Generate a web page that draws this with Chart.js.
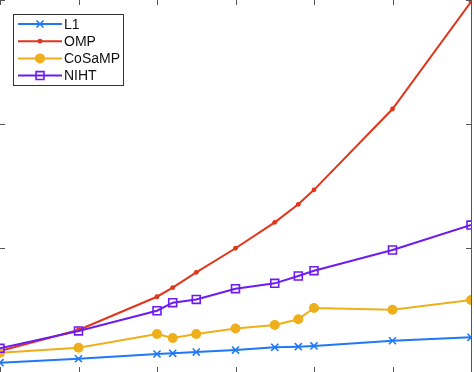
<!DOCTYPE html>
<html>
<head>
<meta charset="utf-8">
<script src="https://cdn.jsdelivr.net/npm/chart.js@4.4.1/dist/chart.umd.min.js"></script>
<style>
  html, body { margin: 0; padding: 0; background: #fff; }
  #wrap { width: 474px; height: 372px; position: relative; }
</style>
</head>
<body>
<div id="wrap"><canvas id="chart"></canvas></div>
<script>
// x positions of the measured points (axis units, one tick = 1)
const xValues = [0, 1, 2, 2.2, 2.5, 3, 3.5, 3.8, 4, 5, 6];

const l1Values     = [0.075, 0.107, 0.145, 0.151, 0.161, 0.177, 0.199, 0.204, 0.210, 0.252, 0.280];
const ompValues    = [0.169, 0.339, 0.607, 0.680, 0.804, 0.998, 1.207, 1.352, 1.469, 2.121, 2.986];
const cosampValues = [0.156, 0.196, 0.306, 0.274, 0.306, 0.351, 0.379, 0.425, 0.516, 0.502, 0.581];
const nihtValues   = [0.191, 0.331, 0.494, 0.559, 0.585, 0.672, 0.715, 0.774, 0.817, 0.984, 1.185];

const seriesNames = ['L1', 'OMP', 'CoSaMP', 'NIHT'];

const xTicks = [0, 1, 2, 3, 4, 5, 6];
const yTicks = [0, 1, 2, 3];

function toPoints(vals) {
    return vals.map((v, i) => ({ x: xValues[i], y: v }));
}

function makeSet(t_label, t_vals, t_color, t_style, t_radius, t_fill, t_order) {
    return {
        label: t_label,
        data: toPoints(t_vals),
        borderColor: t_color,
        backgroundColor: t_fill ? t_color : 'rgba(0,0,0,0)',
        borderWidth: 2,
        pointStyle: t_style,
        pointRadius: t_radius,
        pointHoverRadius: t_radius,
        pointBorderColor: t_color,
        pointBackgroundColor: t_fill ? t_color : 'rgba(0,0,0,0)',
        pointBorderWidth: t_style === 'circle' && t_fill ? 0 : 1.6,
        tension: 0,
        order: t_order
    };
}

const colors = ['#1f78f8', '#e0351b', '#eeaf1a', '#6c1cf0'];

// MATLAB style inward ticks, right box edge and the legend
const framePlugin = {
    id: 'frame',
    afterDraw(chart) {
        const ctx = chart.ctx;
        const a = chart.chartArea;
        const sx = chart.scales.x, sy = chart.scales.y;
        const len = 5;
        ctx.save();
        ctx.strokeStyle = '#555';
        ctx.lineWidth = 1;
        ctx.beginPath();
        ctx.moveTo(a.right + 0.5, a.top);
        ctx.lineTo(a.right + 0.5, a.bottom);
        xTicks.forEach(t => {
            const px = Math.round(sx.getPixelForValue(t)) + 0.5;
            ctx.moveTo(px, a.top); ctx.lineTo(px, a.top + len);
            ctx.moveTo(px, a.bottom); ctx.lineTo(px, a.bottom - len);
        });
        yTicks.forEach(t => {
            const py = Math.round(sy.getPixelForValue(t)) + 0.5;
            ctx.moveTo(a.left, py); ctx.lineTo(a.left + len, py);
            ctx.moveTo(a.right, py); ctx.lineTo(a.right - len, py);
        });
        ctx.stroke();

        // legend box
        const bx = 13.5, by = 14.5, bw = 110, bh = 71;
        ctx.fillStyle = '#fff';
        ctx.fillRect(bx, by, bw, bh);
        ctx.strokeStyle = '#333';
        ctx.strokeRect(bx, by, bw, bh);
        ctx.font = '14px "Liberation Sans", Arial, sans-serif';
        ctx.textBaseline = 'middle';
        chart.data.datasets.forEach((ds, i) => {
            const ly = 24 + i * 17.2;
            ctx.strokeStyle = ds.borderColor;
            ctx.lineWidth = 2;
            ctx.beginPath();
            ctx.moveTo(18, ly); ctx.lineTo(62, ly);
            ctx.stroke();
            ctx.fillStyle = ds.pointBackgroundColor;
            ctx.strokeStyle = ds.borderColor;
            ctx.lineWidth = ds.pointBorderWidth;
            Chart.helpers.drawPoint(ctx, {
                pointStyle: ds.pointStyle,
                radius: ds.pointRadius,
                borderWidth: ds.pointBorderWidth
            }, 40, ly);
            ctx.fillStyle = '#111';
            ctx.fillText(ds.label, 64, ly + 1);
        });
        ctx.restore();
    }
};

new Chart(document.getElementById('chart'), {
    type: 'line',
    data: {
        datasets: [
            makeSet(seriesNames[0], l1Values, colors[0], 'crossRot', 5, false, 4),
            makeSet(seriesNames[1], ompValues, colors[1], 'circle', 2.4, true, 3),
            makeSet(seriesNames[2], cosampValues, colors[2], 'circle', 5, true, 2),
            makeSet(seriesNames[3], nihtValues, colors[3], 'rect', 5.6, false, 1)
        ]
    },
    plugins: [framePlugin],
    options: {
        responsive: true,
        maintainAspectRatio: false,
        animation: false,
        layout: { autoPadding: false, padding: { left: 0, right: 3, top: 0, bottom: 0 } },
        plugins: {
            legend: { display: false },
            tooltip: { enabled: false }
        },
        scales: {
            x: {
                type: 'linear',
                min: 0,
                max: 6,
                display: false
            },
            y: {
                type: 'linear',
                min: 0,
                max: 3,
                display: false
            }
        }
    }
});
</script>
</body>
</html>
